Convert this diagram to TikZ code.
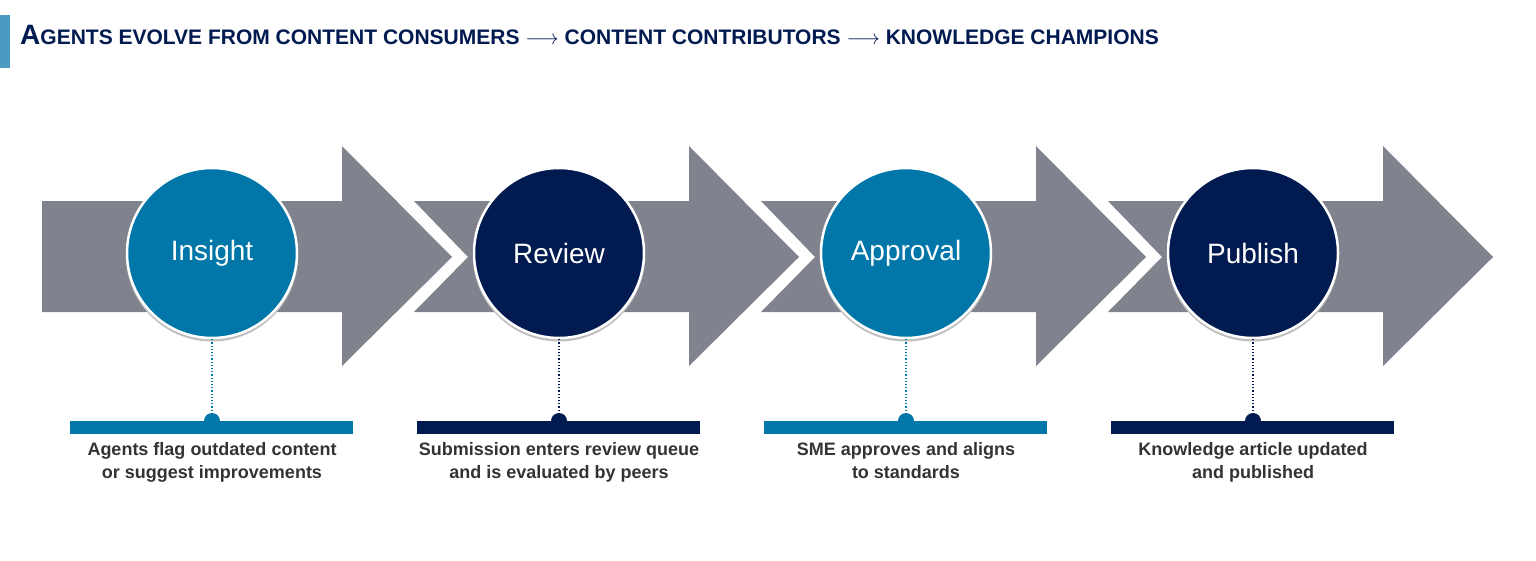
\documentclass[tikz,border=0pt]{standalone}
\usepackage{fontspec}
\setmainfont{Liberation Sans}
\definecolor{teal}{HTML}{0077A8}
\definecolor{navy}{HTML}{011A4F}
\definecolor{arrowgray}{HTML}{80828E}
\definecolor{txt}{HTML}{333333}
\definecolor{tbar}{HTML}{4A9AC2}
\begin{document}
\begin{tikzpicture}[x=1pt,y=-1pt,
  arr/.style={fill=arrowgray,draw=none},
  stepnode/.style={circle,minimum size=170pt,inner sep=0pt,draw=white,line width=2.5pt,text=white,font=\fontsize{28}{30}\selectfont},
  desc/.style={align=center,text=txt,font=\bfseries\fontsize{18}{23}\selectfont},
  dots/.style={dotted,line width=1.2pt}]
\useasboundingbox (0,0) rectangle (1536,560);
\fill[tbar] (0,15) rectangle (10,68);
\node[anchor=base west,text=navy,font=\bfseries,inner sep=0pt] (title) at (20,44)
 {{\fontsize{28}{30}\selectfont A}{\fontsize{21}{24}\selectfont GENTS EVOLVE FROM CONTENT CONSUMERS $\longrightarrow$ CONTENT CONTRIBUTORS $\longrightarrow$ KNOWLEDGE CHAMPIONS}};
% arrows
\fill[arr] (42,201) -- (342,201) -- (342,146) -- (452,257) -- (342,366) -- (342,312) -- (42,312) -- cycle;
\foreach \k in {1,2,3}{
  \pgfmathsetmacro{\d}{347*\k}
  \fill[arr] (67+\d,201) -- (342+\d,201) -- (342+\d,146) -- (452+\d,257) -- (342+\d,366) -- (342+\d,312) -- (67+\d,312) -- (121+\d,257) -- cycle;
}
\foreach \i/\name/\lab/\col/\txt in {
 0/insight/Insight/teal/{Agents flag outdated content\\or suggest improvements},
 1/review/Review/navy/{Submission enters review queue\\and is evaluated by peers},
 2/approval/Approval/teal/{SME approves and aligns\\to standards},
 3/publish/Publish/navy/{Knowledge article updated\\and published}}{
  \pgfmathsetmacro{\cx}{212+347*\i}
  \fill[black!25] (\cx,255.5) circle (86);
  \node[stepnode,fill=\col] (\name) at (\cx,253) {\lab};
  \fill[\col] (\cx-142,421) rectangle (\cx+141,434);
  \fill[\col] (\cx,421) circle (8);
  \coordinate (\name-b) at (\cx,413);
  \draw[dots,draw=\col] (\name.south) -- (\name-b);
  \node[desc,anchor=north] (\name-t) at (\cx,439) {\txt};
}
\end{tikzpicture}
\end{document}
